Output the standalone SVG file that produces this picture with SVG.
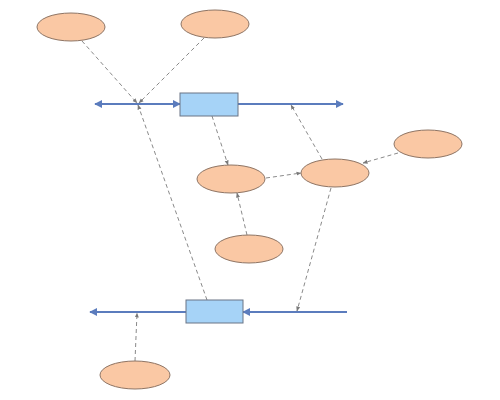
<svg xmlns="http://www.w3.org/2000/svg" width="500" height="400" viewBox="0 0 500 400">
<defs>
<style>
.ell{fill:#FAC8A4;stroke:#8E7565;stroke-width:1}
.box{fill:#A6D3F7;stroke:#6A7585;stroke-width:1}
.ln{stroke:#5B7CBD;stroke-width:2;fill:none}
.dl{stroke:#8A8A8A;stroke-width:1;stroke-dasharray:4,3;fill:none}
</style>
<marker id="ab" viewBox="0 0 10 10" refX="9" refY="5" markerWidth="4" markerHeight="4" orient="auto"><path d="M0,0L10,5L0,10z" fill="#5B7CBD"/></marker>
<marker id="ag" viewBox="0 0 10 10" refX="9" refY="5" markerWidth="5" markerHeight="5" orient="auto"><path d="M0,1L10,5L0,9z" fill="#7A7A7A"/></marker>
</defs>
<rect width="500" height="400" fill="#fff"/>
<g id="connectors">
<line class="ln" x1="138" y1="104" x2="95" y2="104" marker-end="url(#ab)"/>
<line class="ln" x1="138" y1="104" x2="180" y2="104" marker-end="url(#ab)"/>
<line class="ln" x1="238" y1="104" x2="343" y2="104" marker-end="url(#ab)"/>
<line class="ln" x1="186" y1="312" x2="90" y2="312" marker-end="url(#ab)"/>
<line class="ln" x1="347" y1="312" x2="243" y2="312" marker-end="url(#ab)"/>
<line class="dl" x1="82" y1="41" x2="137" y2="103" marker-end="url(#ag)"/>
<line class="dl" x1="204" y1="38" x2="139" y2="103" marker-end="url(#ag)"/>
<line class="dl" x1="207" y1="300" x2="138" y2="105" marker-end="url(#ag)"/>
<line class="dl" x1="212" y1="116" x2="228" y2="165" marker-end="url(#ag)"/>
<line class="dl" x1="266" y1="178" x2="301" y2="173" marker-end="url(#ag)"/>
<line class="dl" x1="398" y1="153" x2="363" y2="163" marker-end="url(#ag)"/>
<line class="dl" x1="322" y1="159" x2="291" y2="105" marker-end="url(#ag)"/>
<line class="dl" x1="331" y1="188" x2="297" y2="311" marker-end="url(#ag)"/>
<line class="dl" x1="247" y1="235" x2="237" y2="193" marker-end="url(#ag)"/>
<line class="dl" x1="135" y1="361" x2="137" y2="313" marker-end="url(#ag)"/>
</g>
<g id="n1"><ellipse class="ell" cx="71" cy="27" rx="34" ry="14"/></g>
<g id="n2"><ellipse class="ell" cx="215" cy="24" rx="34" ry="14"/></g>
<g id="b1"><rect class="box" x="180" y="93" width="58" height="23"/></g>
<g id="n3"><ellipse class="ell" cx="231" cy="179" rx="34" ry="14"/></g>
<g id="n4"><ellipse class="ell" cx="335" cy="173" rx="34" ry="14"/></g>
<g id="n5"><ellipse class="ell" cx="428" cy="144" rx="34" ry="14"/></g>
<g id="n6"><ellipse class="ell" cx="249" cy="249" rx="34" ry="14"/></g>
<g id="b2"><rect class="box" x="186" y="300" width="57" height="23"/></g>
<g id="n7"><ellipse class="ell" cx="135" cy="375" rx="35" ry="14"/></g>
</svg>
